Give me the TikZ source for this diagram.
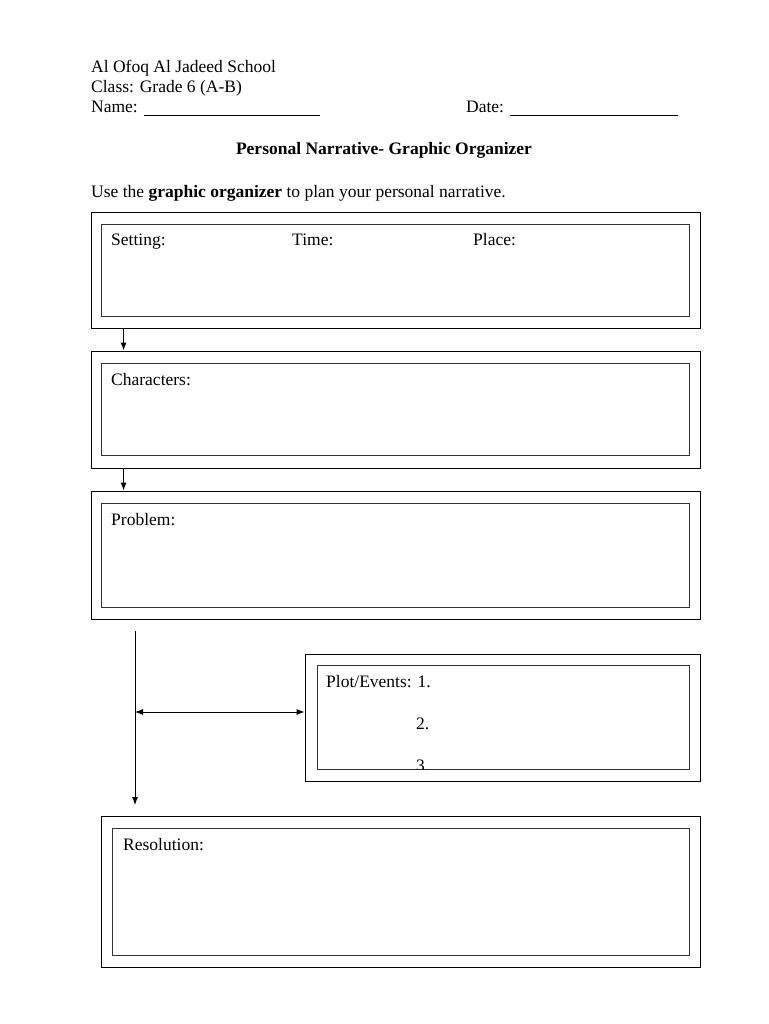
\documentclass[tikz,border=0pt]{standalone}
\usepackage{fontspec}
\setmainfont{Liberation Serif}
\usetikzlibrary{arrows.meta}
\tikzset{
  outerbox/.style={draw=black, line width=0.9pt, inner sep=0pt},
  innerbox/.style={draw=black!80, line width=0.9pt, inner sep=0pt},
  lbl/.style={anchor=base west, inner sep=0pt},
  arr/.style={line width=0.9pt, -{Latex[length=8pt,width=6pt]}},
  dblarr/.style={line width=0.9pt, {Latex[length=8pt,width=6pt]}-{Latex[length=8pt,width=6pt]}}
}
\begin{document}
\begin{tikzpicture}[x=1pt, y=-1pt, font=\fontsize{17.5}{20}\selectfont]
      \useasboundingbox (0,0) rectangle (768,1024);
      \node[lbl] (school) at (91,72.5) {Al Ofoq Al Jadeed School};
      \node[lbl] (class) at (91,92.5) {Class: Grade 6 (A-B)};
      \node[lbl] (name) at (91,112.5) {Name: \rule[-3.5pt]{176pt}{0.8pt}};
      \node[lbl] (date) at (466,112.5) {Date: \rule[-3.5pt]{168pt}{0.8pt}};
      \node[lbl, anchor=base, font=\fontsize{17.5}{20}\selectfont\bfseries] (title) at (384,155) {Personal Narrative- Graphic Organizer};
      \node[lbl] (intro) at (91,197.5) {Use the \textbf{graphic organizer} to plan your personal narrative.};
      \node[outerbox, minimum width=609pt, minimum height=116pt] (setO) at (395.5,270) {};
      \node[innerbox, minimum width=588pt, minimum height=92pt] (setI) at (395,270) {};
      \node[lbl] (setting) at (111,245) {Setting:};
      \node[lbl] (time) at (292,245) {Time:};
      \node[lbl] (place) at (473,245) {Place:};
      \node[outerbox, minimum width=609pt, minimum height=117pt] (charO) at (395.5,409.5) {};
      \node[innerbox, minimum width=588pt, minimum height=92pt] (charI) at (395,409) {};
      \node[lbl] (chars) at (111,385) {Characters:};
      \node[outerbox, minimum width=609pt, minimum height=128pt] (probO) at (395.5,555) {};
      \node[innerbox, minimum width=588pt, minimum height=104pt] (probI) at (395,555) {};
      \node[lbl] (problem) at (111,525) {Problem:};
      \node[outerbox, minimum width=395pt, minimum height=127pt] (plotO) at (502.5,717.5) {};
      \node[innerbox, minimum width=372pt, minimum height=104pt] (plotI) at (503,717) {};
      \node[lbl] (plot) at (326,687) {Plot/Events: 1.};
      \node[lbl] (two) at (416,729) {2.};
      \begin{scope}
        \clip (plotI.south west) rectangle (plotI.north east);
        \node[lbl] (three) at (416,771) {3.};
      \end{scope}
      \node[outerbox, minimum width=599pt, minimum height=151pt] (resO) at (400.5,891.5) {};
      \node[innerbox, minimum width=577pt, minimum height=127pt] (resI) at (400.5,891.5) {};
      \node[lbl] (resolution) at (123,850) {Resolution:};
      \coordinate (fork) at (135,631);
      \coordinate (tee) at (135,712);
      \coordinate (down) at (135,805);
      \draw[arr] ([xshift=33pt]setO.south west) to ([xshift=33pt]charO.north west);
      \draw[arr] ([xshift=33pt]charO.south west) to ([xshift=33pt]probO.north west);
      \draw[arr] (fork) to (down);
      \draw[dblarr] (tee) to (tee -| plotO.west);
    \end{tikzpicture}
\end{document}
